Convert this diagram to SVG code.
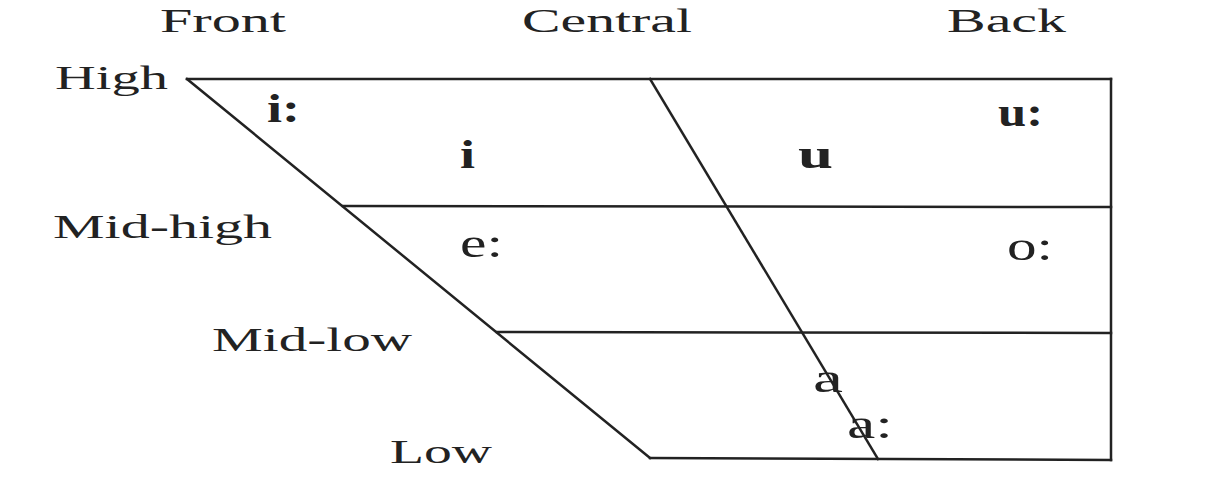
<svg xmlns="http://www.w3.org/2000/svg" width="1225" height="498" viewBox="0 0 1225 498">
<style>
.ln{stroke:#222;stroke-width:2.5;fill:none;stroke-linecap:square}
.lb{font-family:"Liberation Serif","Times New Roman",serif;font-size:34px;fill:#222}
.v{font-family:"Liberation Serif","Times New Roman",serif;font-size:40px;fill:#222}
.b{font-weight:bold}
</style>
<rect width="1225" height="498" fill="#fff"/>
<g id="chart-lines">
<line class="ln" x1="187" y1="79" x2="1111" y2="79"/>
<line class="ln" x1="1111" y1="79" x2="1111" y2="460"/>
<line class="ln" x1="650" y1="458" x2="1111" y2="460"/>
<line class="ln" x1="187" y1="79" x2="650" y2="458"/>
<line class="ln" x1="650" y1="79" x2="878" y2="459"/>
<line class="ln" x1="343" y1="206" x2="1111" y2="207"/>
<line class="ln" x1="497" y1="332" x2="1111" y2="333"/>
</g>
<g id="axis-labels">
<text class="lb" x="160" y="32" textLength="126" lengthAdjust="spacingAndGlyphs">Front</text>
<text class="lb" x="522" y="32" textLength="170" lengthAdjust="spacingAndGlyphs">Central</text>
<text class="lb" x="947" y="32" textLength="119" lengthAdjust="spacingAndGlyphs">Back</text>
<text class="lb" x="55" y="89" textLength="113" lengthAdjust="spacingAndGlyphs">High</text>
<text class="lb" x="53" y="238" textLength="219" lengthAdjust="spacingAndGlyphs">Mid-high</text>
<text class="lb" x="212" y="351" textLength="200" lengthAdjust="spacingAndGlyphs">Mid-low</text>
<text class="lb" x="390" y="463" textLength="102" lengthAdjust="spacingAndGlyphs">Low</text>
</g>
<g id="vowels">
<text class="v b" x="267" y="122" textLength="33" lengthAdjust="spacingAndGlyphs">i:</text>
<text class="v b" x="460" y="168" textLength="15" lengthAdjust="spacingAndGlyphs">i</text>
<text class="v b" x="798" y="168" textLength="35" lengthAdjust="spacingAndGlyphs">u</text>
<text class="v b" x="998" y="126" textLength="45" lengthAdjust="spacingAndGlyphs">u:</text>
<text class="v" x="460" y="257" textLength="43" lengthAdjust="spacingAndGlyphs">e:</text>
<text class="v" x="1007" y="260" textLength="46" lengthAdjust="spacingAndGlyphs">o:</text>
<text class="v" x="813" y="392" textLength="30" lengthAdjust="spacingAndGlyphs">a</text>
<text class="v" x="847" y="438" textLength="46" lengthAdjust="spacingAndGlyphs">a:</text>
</g>
</svg>
